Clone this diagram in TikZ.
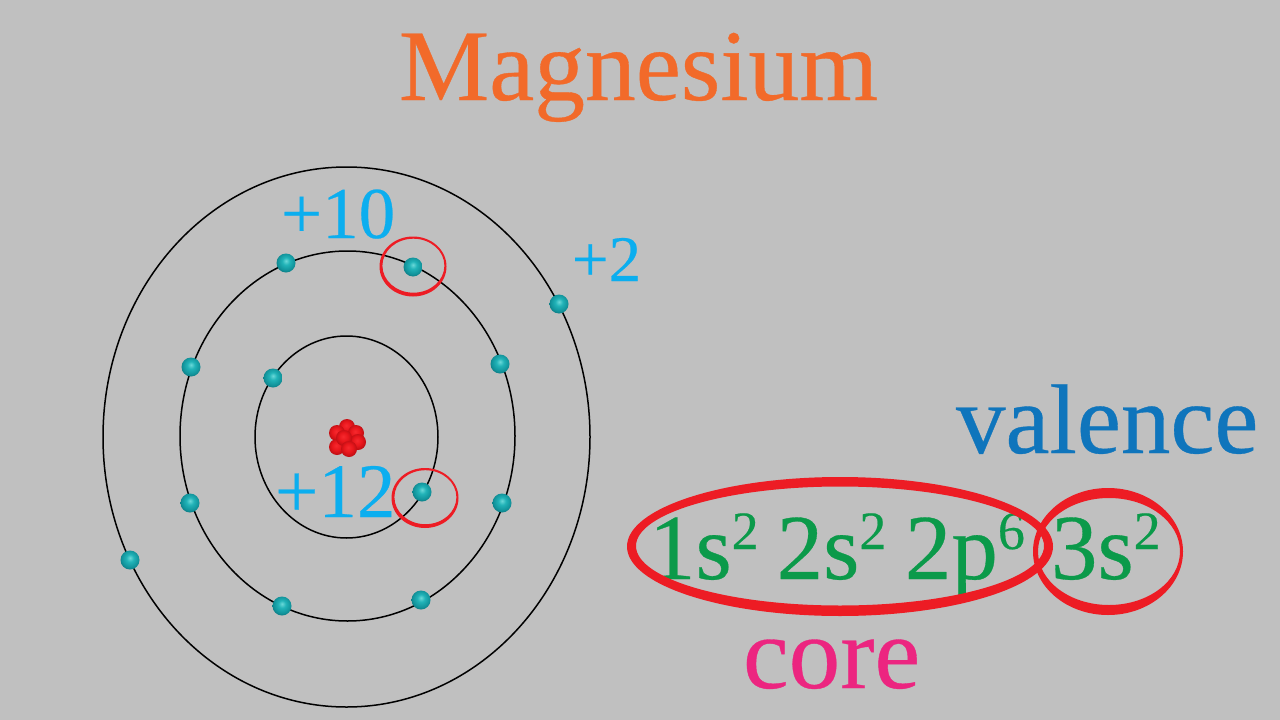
\documentclass[tikz,border=0pt]{standalone}
\usepackage{fontspec}
\setmainfont[FakeBold=0.35]{Liberation Serif}
\definecolor{bgc}{HTML}{C0C0C0}
\definecolor{orangec}{HTML}{F26A2A}
\definecolor{cyanc}{HTML}{0BAEEF}
\definecolor{bluec}{HTML}{0F75BC}
\definecolor{greenc}{HTML}{0B9A4A}
\definecolor{pinkc}{HTML}{EC2580}
\definecolor{redc}{HTML}{ED1C24}
\newcommand{\bigtxt}[1]{\fontsize{#1}{#1}\selectfont}
\newcommand{\supr}[1]{\raisebox{30pt}{\bigtxt{54}#1}}
\pgfdeclareradialshading{tealball}{\pgfqpoint{0bp}{6bp}}{%
  rgb(0bp)=(0.42,0.85,0.85);
  rgb(10bp)=(0.13,0.70,0.72);
  rgb(22bp)=(0.07,0.58,0.61);
  rgb(31bp)=(0.04,0.43,0.46);
  rgb(50bp)=(0.04,0.43,0.46)}
\pgfdeclareradialshading{redball}{\pgfqpoint{-3bp}{5bp}}{%
  rgb(0bp)=(0.97,0.16,0.18);
  rgb(14bp)=(0.91,0.09,0.11);
  rgb(28bp)=(0.72,0.05,0.07);
  rgb(50bp)=(0.72,0.05,0.07)}
\tikzset{
  x=1pt,y=-1pt,
  orbit/.style={draw=black,line width=1.5pt},
  label/.style={anchor=base west,inner sep=0pt,outer sep=0pt},
  electron/.style={shading=tealball},
  proton/.style={shading=redball},
  fatmarker/.style={fill=redc,even odd rule}
}
\begin{document}
\begin{tikzpicture}
\useasboundingbox (0,0) rectangle (1280,720);
\fill[bgc] (0,0) rectangle (1280,720);
% orbits
\draw[orbit] (346.5,437) ellipse [x radius=243.5,y radius=270];
\draw[orbit] (347.5,436) ellipse [x radius=167.5,y radius=185];
\draw[orbit] (346.5,437) ellipse [x radius=91.5,y radius=101];
% electrons
\foreach \p in {(286,263),(413,267),(500,364),(502,503),(421,600),(282,606),(190,503),(191,367),(273,378),(422,492),(559,304),(130,560)}
  \shade[electron] \p circle [radius=9.5];
% nucleus
\foreach \p in {(347,427),(356,433),(337,433),(337,447),(358,442),(344,438),(349,449)}
  \shade[proton] \p circle [radius=8];
% thin markers
\fill[fatmarker] (413,266.5) ellipse [x radius=33.5,y radius=30] (413.4,265.7) ellipse [x radius=31,y radius=27];
\fill[fatmarker] (425,498) ellipse [x radius=33.5,y radius=30] (425.4,497.2) ellipse [x radius=31,y radius=27];
% text
\node[label,text=orangec] (title) at (399,100) {\bigtxt{101.5}Magnesium};
\node[label,text=cyanc] (ten) at (281,238) {\bigtxt{73}+10};
\node[label,text=cyanc] (twelve) at (275,517) {\bigtxt{77}+12};
\node[label,text=cyanc] (two) at (572,281) {\bigtxt{65}+2};
\node[label,text=bluec] (valence) at (956,453) {\bigtxt{99}valence};
\node[label,text=pinkc] (corelabel) at (743,688) {\bigtxt{103}core};
\node[label,text=greenc] (coreconfig) at (649,579) {\bigtxt{93}1s\supr{2}\hspace{18pt}2s\supr{2}\hspace{18.5pt}2p\supr{6}};
\node[label,text=greenc] (valconfig) at (1051,579) {\bigtxt{93}3s\supr{2}};
% thick markers
\fill[fatmarker] (840,546.5) ellipse [x radius=213,y radius=69.5] (840,546) ellipse [x radius=204,y radius=59.5];
\fill[fatmarker] (1108,551.5) ellipse [x radius=75,y radius=63.5] (1109,551.5) ellipse [x radius=71,y radius=53.5];
\end{tikzpicture}
\end{document}
